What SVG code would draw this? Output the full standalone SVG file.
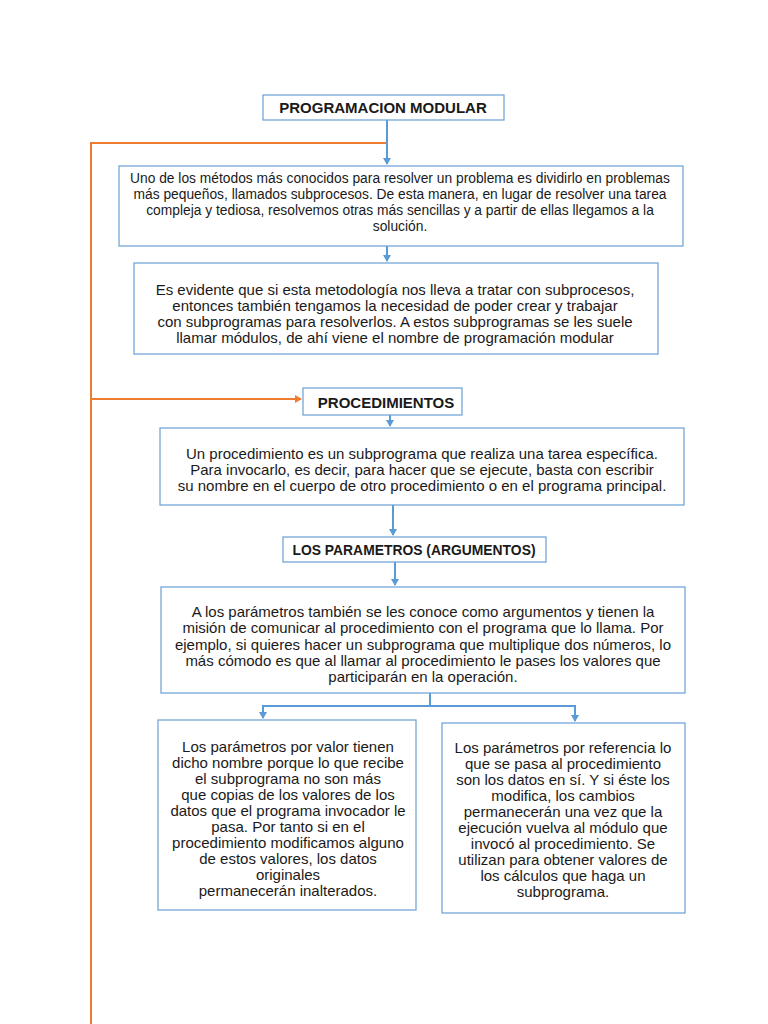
<svg xmlns="http://www.w3.org/2000/svg" width="768" height="1024" viewBox="0 0 768 1024">
<defs>
<marker id="ab" markerWidth="8" markerHeight="8" refX="6" refY="4" orient="auto" markerUnits="userSpaceOnUse"><path d="M0,0 L7,4 L0,8 z" fill="#5b9bd5"/></marker>
<marker id="ao" markerWidth="8" markerHeight="8" refX="6" refY="4" orient="auto" markerUnits="userSpaceOnUse"><path d="M0,0 L7,4 L0,8 z" fill="#ed7d31"/></marker>
<style>
.box{fill:#fff;stroke:#6a9fd6;stroke-width:1.2}
.t{font-family:"Liberation Sans",Arial,sans-serif;font-size:15px;fill:#1a1a1a;text-anchor:middle}
.s{font-size:13.8px}
.h{font-family:"Liberation Sans",Arial,sans-serif;font-size:15px;font-weight:bold;fill:#1a1a1a;text-anchor:middle}
.cb{fill:none;stroke:#5b9bd5;stroke-width:2}
.co{fill:none;stroke:#ed7d31;stroke-width:2}
</style>
</defs>
<rect width="768" height="1024" fill="#fff"/>
<g id="connectors">
<path class="co" d="M387,143 H91 V1024"/>
<path class="co" d="M91,399 H301" marker-end="url(#ao)"/>
<path class="cb" d="M387,120 V164" marker-end="url(#ab)"/>
<path class="cb" d="M387,246 V261" marker-end="url(#ab)"/>
<path class="cb" d="M390,415 V426" marker-end="url(#ab)"/>
<path class="cb" d="M393,505 V535" marker-end="url(#ab)"/>
<path class="cb" d="M395,562 V585" marker-end="url(#ab)"/>
<path class="cb" d="M430,693 V706 M263,706 H575"/>
<path class="cb" d="M263,705 V718" marker-end="url(#ab)"/>
<path class="cb" d="M575,705 V721" marker-end="url(#ab)"/>
</g>
<g id="n1">
<rect class="box" x="263" y="95" width="241" height="25"/>
<text class="h" x="383" y="113">PROGRAMACION MODULAR</text>
</g>
<g id="n2">
<rect class="box" x="119" y="166" width="564" height="80"/>
<text class="t s" x="400" y="183">Uno de los métodos más conocidos para resolver un problema es dividirlo en problemas</text>
<text class="t s" x="400" y="199">más pequeños, llamados subprocesos. De esta manera, en lugar de resolver una tarea</text>
<text class="t s" x="400" y="215">compleja y tediosa, resolvemos otras más sencillas y a partir de ellas llegamos a la</text>
<text class="t s" x="400" y="231">solución.</text>
</g>
<g id="n3">
<rect class="box" x="134" y="263" width="524" height="91"/>
<text class="t" x="395" y="295">Es evidente que si esta metodología nos lleva a tratar con subprocesos,</text>
<text class="t" x="395" y="311">entonces también tengamos la necesidad de poder crear y trabajar</text>
<text class="t" x="395" y="327">con subprogramas para resolverlos. A estos subprogramas se les suele</text>
<text class="t" x="395" y="343">llamar módulos, de ahí viene el nombre de programación modular</text>
</g>
<g id="n4">
<rect class="box" x="303" y="388" width="159" height="27"/>
<text class="h" x="386" y="408">PROCEDIMIENTOS</text>
</g>
<g id="n5">
<rect class="box" x="160" y="428" width="524" height="77"/>
<text class="t" x="422" y="459">Un procedimiento es un subprograma que realiza una tarea específica.</text>
<text class="t" x="422" y="475">Para invocarlo, es decir, para hacer que se ejecute, basta con escribir</text>
<text class="t" x="422" y="491">su nombre en el cuerpo de otro procedimiento o en el programa principal.</text>
</g>
<g id="n6">
<rect class="box" x="283" y="537" width="263" height="25"/>
<text class="h" x="414" y="555" textLength="243" lengthAdjust="spacingAndGlyphs">LOS PARAMETROS (ARGUMENTOS)</text>
</g>
<g id="n7">
<rect class="box" x="161" y="587" width="524" height="106"/>
<text class="t" x="423" y="617">A los parámetros también se les conoce como argumentos y tienen la</text>
<text class="t" x="423" y="633">misión de comunicar al procedimiento con el programa que lo llama. Por</text>
<text class="t" x="423" y="650">ejemplo, si quieres hacer un subprograma que multiplique dos números, lo</text>
<text class="t" x="423" y="666">más cómodo es que al llamar al procedimiento le pases los valores que</text>
<text class="t" x="423" y="682">participarán en la operación.</text>
</g>
<g id="n8">
<rect class="box" x="158" y="720" width="258" height="190"/>
<text class="t" x="288" y="752">Los parámetros por valor tienen</text>
<text class="t" x="288" y="768">dicho nombre porque lo que recibe</text>
<text class="t" x="288" y="784">el subprograma no son más</text>
<text class="t" x="288" y="800">que copias de los valores de los</text>
<text class="t" x="288" y="816">datos que el programa invocador le</text>
<text class="t" x="288" y="832">pasa. Por tanto si en el</text>
<text class="t" x="288" y="848">procedimiento modificamos alguno</text>
<text class="t" x="288" y="864">de estos valores, los datos</text>
<text class="t" x="288" y="880">originales</text>
<text class="t" x="288" y="896">permanecerán inalterados.</text>
</g>
<g id="n9">
<rect class="box" x="442" y="723" width="243" height="190"/>
<text class="t" x="563" y="753">Los parámetros por referencia lo</text>
<text class="t" x="563" y="769">que se pasa al procedimiento</text>
<text class="t" x="563" y="785">son los datos en sí. Y si éste los</text>
<text class="t" x="563" y="801">modifica, los cambios</text>
<text class="t" x="563" y="817">permanecerán una vez que la</text>
<text class="t" x="563" y="833">ejecución vuelva al módulo que</text>
<text class="t" x="563" y="849">invocó al procedimiento. Se</text>
<text class="t" x="563" y="865">utilizan para obtener valores de</text>
<text class="t" x="563" y="881">los cálculos que haga un</text>
<text class="t" x="563" y="897">subprograma.</text>
</g>
</svg>
